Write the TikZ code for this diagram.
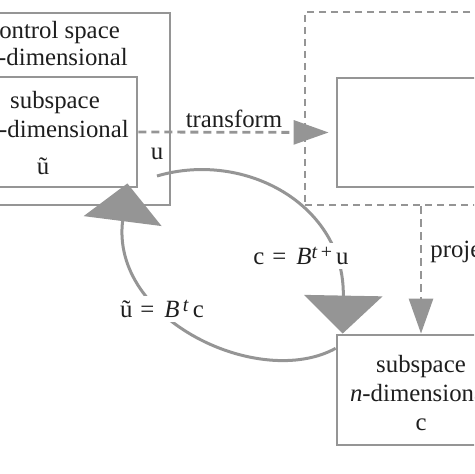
\documentclass[tikz,border=0pt]{standalone}
\usepackage{fontspec}
\setmainfont{Liberation Serif}
\usetikzlibrary{arrows.meta,fit}

\definecolor{linegray}{HTML}{959595}
\definecolor{inkblack}{HTML}{1E1E1E}
\newcommand{\supfont}{\fontsize{10}{11}\selectfont}

\begin{document}
\begin{tikzpicture}[
    x=0.5pt, y=-0.5pt,
    every node/.style={font=\fontsize{12.4}{14.5}\selectfont, text=inkblack},
    box/.style={draw=linegray, line width=1.4pt, rectangle, inner sep=0pt},
    dashbox/.style={box, dash pattern=on 3.5pt off 2.5pt},
    dashflow/.style={draw=linegray, line width=1.4pt, dash pattern=on 4pt off 2.5pt,
        -{Triangle[length=17.5pt, width=12pt]}},
    loopflow/.style={draw=linegray, line width=1.5pt,
        -{Triangle[length=19pt, width=39pt]}},
    boxtext/.style={align=center, anchor=north, inner sep=0pt},
    eqn/.style={fill=white, inner sep=2pt}
]
\clip (0,0) rectangle (474,474);

% Boxes
\node [box, fit={(-80,13) (170,205)}] (ctrl) {};
\node [box, fit={(-27,77) (137,187)}] (sub) {};
\node [dashbox, fit={(305,12) (537,205)}] (proj) {};
\node [box, fit={(337,78) (540,187)}] (img) {};
\node [box, fit={(337,335) (505,445)}] (csub) {};

% Texts
\node [boxtext, font=\fontsize{12.4}{13.5}\selectfont] (ctrltxt) at (54,21) {control space\\\textit{m}-dimensional};
\node [boxtext] (subtxt) at (55,91) {subspace\\\textit{m}-dimensional};
\node [anchor=base] (utilde) at (43,175) {\~{u}};
\node [anchor=base] (ulab) at (157,160) {u};
\node [boxtext] (csubtxt) at (421,355) {subspace\\\textit{n}-dimensional\\c};
\node [anchor=base] (transf) at (234,128) {transform};
\node [anchor=base west, inner sep=0pt] (projtxt) at (430,258) {projection};

% Edges
\draw [dashflow, shorten >=3.5pt] (sub.east) -- (img.west);
\draw [dashflow] (proj.south) -- (proj.south |- csub.north);

\coordinate (uout) at (157,176);
\draw [loopflow] (uout) .. controls (245,150) and (345,205) .. ([xshift=3.5pt]csub.north west);
\draw [loopflow] (csub.154) .. controls (260,390) and (110,320) .. ([xshift=-5.5pt, yshift=2.5pt]sub.south east);

\node [eqn] (fwd) at (301,256) {c\hspace{4pt}=\hspace{5pt}\textit{B}\raisebox{3.2pt}{\supfont\textit{t}\,+}\,u};
\node [eqn] (bwd) at (162,309) {\~{u}\hspace{4pt}=\hspace{5pt}\textit{B}\raisebox{3.2pt}{\supfont\,\textit{t}}\,c};

\end{tikzpicture}
\end{document}
